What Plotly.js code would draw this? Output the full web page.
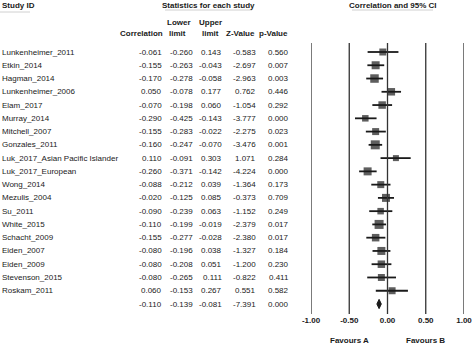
<!DOCTYPE html>
<html><head><meta charset="utf-8">
<script src="https://cdn.plot.ly/plotly-3.0.1.min.js"></script>
<style>html,body{margin:0;padding:0;background:#fff;}#chart{width:474px;height:347px;}</style>
</head><body><div id="chart"></div>
<script>
// ---- data ----
const studies = ["Lunkenheimer_2011","Etkin_2014","Hagman_2014","Lunkenheimer_2006","Elam_2017","Murray_2014","Mitchell_2007","Gonzales_2011","Luk_2017_Asian Pacific Islander","Luk_2017_European","Wong_2014","Mezulis_2004","Su_2011","White_2015","Schacht_2009","Eiden_2007","Eiden_2009","Stevenson_2015","Roskam_2011"];
const correlation = [-0.061,-0.155,-0.170,0.050,-0.070,-0.290,-0.155,-0.160,0.110,-0.260,-0.088,-0.020,-0.090,-0.110,-0.155,-0.080,-0.080,-0.080,0.060];
const lowerLimit = [-0.260,-0.263,-0.278,-0.078,-0.198,-0.425,-0.283,-0.247,-0.091,-0.371,-0.212,-0.125,-0.239,-0.199,-0.277,-0.196,-0.208,-0.265,-0.153];
const upperLimit = [0.143,-0.043,-0.058,0.177,0.060,-0.143,-0.022,-0.070,0.303,-0.142,0.039,0.085,0.063,-0.019,-0.028,0.038,0.051,0.111,0.267];
const zValue = [-0.583,-2.697,-2.963,0.762,-1.054,-3.777,-2.275,-3.476,1.071,-4.224,-1.364,-0.373,-1.152,-2.379,-2.380,-1.327,-1.200,-0.822,0.551];
const pValue = [0.560,0.007,0.003,0.446,0.292,0.000,0.023,0.001,0.284,0.000,0.173,0.709,0.249,0.017,0.017,0.184,0.230,0.411,0.582];
const relWeight = [7,8,8.5,7.5,7.5,6.5,7,9,6,8,7,8,6.5,9,7.5,8,7.5,7,7];
const summary = {correlation:-0.110, lower:-0.139, upper:-0.081, z:-7.391, p:0.000};
const tickVals = [-1.00,-0.50,0.00,0.50,1.00];
const favourLabels = ["Favours A","Favours B"];
const favourPos = [-0.5,0.5];

// ---- layout helpers ----
const W=474,H=347;
const px = v => v/W;
const py = v => 1 - v/H;
const FONT = "Liberation Sans, Arial, sans-serif";
const TXT = "#1a1a1a";
const f3 = v => v.toFixed(3);
const nRows = studies.length;
const sumRow = nRows;
const rows = studies.map((_,i)=>i);

const traces = [];
traces.push({
  type:'scatter', mode:'markers', x:correlation, y:rows,
  marker:{symbol:'square', size:relWeight, color:'#1a1a1a', line:{width:0}},
  error_x:{type:'data', symmetric:false,
    array:correlation.map((c,i)=>upperLimit[i]-c),
    arrayminus:correlation.map((c,i)=>c-lowerLimit[i]),
    width:0, thickness:1.8, color:'#1a1a1a'},
  hoverinfo:'skip', showlegend:false, cliponaxis:false
});
const dh = 0.35;
traces.push({
  type:'scatter', mode:'lines', fill:'toself', fillcolor:'#1a1a1a',
  x:[summary.lower, summary.correlation, summary.upper, summary.correlation, summary.lower],
  y:[sumRow, sumRow-dh, sumRow, sumRow+dh, sumRow],
  line:{color:'#1a1a1a', width:1}, hoverinfo:'skip', showlegend:false
});

const ann = [];
const addA = (text,x,y,anchor,bold,yref) => ann.push({
  text: bold?'<b>'+text+'</b>':text, x:x, y:y, xref:'paper', yref:yref||'y',
  xanchor:anchor, yanchor:'middle', showarrow:false,
  font:{family:FONT,size:8,color:TXT}
});
const colRight = {corr:164, lower:195, upper:224, z:258, p:291};
const allRows = studies.concat([""]);
allRows.forEach((s,i)=>{
  const c = i<nRows ? correlation[i] : summary.correlation;
  const lo = i<nRows ? lowerLimit[i] : summary.lower;
  const up = i<nRows ? upperLimit[i] : summary.upper;
  const z = i<nRows ? zValue[i] : summary.z;
  const p = i<nRows ? pValue[i] : summary.p;
  if(s) addA(s, px(0), i, 'left', false);
  addA(f3(c), px(colRight.corr), i, 'right', false);
  addA(f3(lo), px(colRight.lower), i, 'right', false);
  addA(f3(up), px(colRight.upper), i, 'right', false);
  addA(f3(z), px(colRight.z), i, 'right', false);
  addA(f3(p), px(colRight.p), i, 'right', false);
});
// headers
addA('Study ID', px(0), py(5), 'left', true, 'paper');
addA('Statistics for each study', px(208), py(5), 'center', true, 'paper');
addA('Correlation and 95% CI', px(393), py(5), 'center', true, 'paper');
addA('Lower', px(179), py(22), 'center', true, 'paper');
addA('Upper', px(210), py(22), 'center', true, 'paper');
addA('Correlation', px(165), py(33), 'right', true, 'paper');
addA('limit', px(177), py(33), 'center', true, 'paper');
addA('limit', px(210), py(33), 'center', true, 'paper');
addA('Z-Value', px(257), py(33), 'right', true, 'paper');
addA('p-Value', px(290), py(33), 'right', true, 'paper');
favourLabels.forEach((t,i)=>ann.push({text:'<b>'+t+'</b>', x:favourPos[i], y:py(340), xref:'x', yref:'paper',
  xanchor:'center', yanchor:'middle', showarrow:false, font:{family:FONT,size:8,color:TXT}}));

const shapes = [];
tickVals.forEach(v=>shapes.push({type:'line', xref:'x', yref:'paper', x0:v, x1:v, y0:py(314), y1:py(43),
  line:{color:'#333', width:1.3}}));
[[0,30,12],[165,252,10],[352,433,10]].forEach(u=>shapes.push({type:'line', xref:'paper', yref:'paper',
  x0:px(u[0]), x1:px(u[1]), y0:py(u[2]), y1:py(u[2]), line:{color:'#d0d0d0', width:1}}));

const layout = {
  width:W, height:H, margin:{l:0,r:0,t:0,b:0},
  paper_bgcolor:'#fff', plot_bgcolor:'rgba(0,0,0,0)',
  showlegend:false,
  xaxis:{domain:[px(311), px(464)], range:[-1,1], showgrid:false, zeroline:false, showline:false,
    ticks:'', tickvals:tickVals, ticktext:tickVals.map(v=>'<b>'+v.toFixed(2)+'</b>'),
    tickfont:{family:FONT,size:8,color:TXT}, fixedrange:true},
  yaxis:{domain:[py(314), 1], range:[sumRow + (314-304)/13.263, -52/13.263], showgrid:false, zeroline:false,
    showline:false, showticklabels:false, ticks:'', fixedrange:true},
  annotations:ann, shapes:shapes, font:{family:FONT}
};
Plotly.newPlot('chart', traces, layout, {staticPlot:true});
</script>
</body></html>
